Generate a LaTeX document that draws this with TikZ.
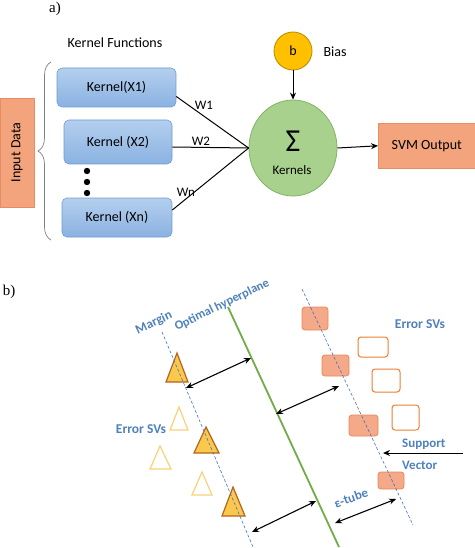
\documentclass[tikz,border=0pt]{standalone}
\usepackage{fontspec}
\setmainfont{Carlito}
\newfontfamily\serifx{Liberation Serif}
\usetikzlibrary{arrows.meta,shapes.geometric,decorations.pathreplacing,calc}
\definecolor{ktop}{RGB}{180,207,238}
\definecolor{kbot}{RGB}{138,178,225}
\definecolor{kborder}{RGB}{110,155,210}
\definecolor{ofill}{RGB}{244,164,124}
\definecolor{oborder}{RGB}{232,140,100}
\definecolor{bfill}{RGB}{255,192,0}
\definecolor{bborder}{RGB}{191,144,0}
\definecolor{gfill}{RGB}{169,209,142}
\definecolor{gborder}{RGB}{130,180,100}
\definecolor{gline}{RGB}{112,173,71}
\definecolor{dline}{RGB}{68,114,196}
\definecolor{sblue}{RGB}{79,129,189}
\definecolor{tfill}{RGB}{249,200,77}
\definecolor{tborder}{RGB}{181,101,29}
\definecolor{tlight}{RGB}{247,210,120}
\definecolor{sqfill}{RGB}{244,169,136}
\definecolor{sqborder}{RGB}{233,135,90}
\definecolor{sqline}{RGB}{237,125,49}
\begin{document}
\begin{tikzpicture}[x=1pt,y=-1pt,
  txt/.style={font=\fontsize{14}{16}\selectfont, inner sep=0pt},
  kbox/.style={draw=kborder, line width=0.6pt, rounded corners=5pt, top color=ktop, bottom color=kbot, font=\fontsize{14}{16}\selectfont, inner sep=0pt},
  obox/.style={draw=oborder, line width=0.6pt, fill=ofill, inner sep=0pt},
  wlab/.style={font=\fontsize{13}{15}\selectfont, inner sep=0pt},
  conn/.style={line width=1pt},
  arr/.style={line width=1pt, -{Stealth[length=7pt,width=6pt]}},
  blab/.style={text=sblue, font=\bfseries\fontsize{13}{15}\selectfont, inner sep=0pt},
  dbl/.style={line width=1.1pt, {Stealth[length=7pt,width=6pt]}-{Stealth[length=7pt,width=6pt]}},
  ftri/.style={draw=tborder, fill=tfill, line width=1.2pt, line join=miter},
  otri/.style={draw=tlight, fill=white, line width=1.2pt},
  fsq/.style={draw=sqborder, fill=sqfill, line width=0.8pt, rounded corners=3pt},
  osq/.style={draw=sqline, fill=white, line width=1pt, rounded corners=3pt},
  dashln/.style={draw=dline, dash pattern=on 3pt off 2pt, line width=0.6pt}
]
\useasboundingbox (0,0) rectangle (474,548);
% ---------- part a ----------
\node[font=\serifx\fontsize{15}{17}\selectfont, inner sep=0pt] (la) at (55,9) {a)};
\node[txt] (kf) at (115,43) {Kernel Functions};
\node[obox, minimum width=34pt, minimum height=109pt, anchor=north west] (inp) at (0,98) {};
\node[txt, rotate=90] (inpt) at (17,152.5) {Input Data};
\draw[gray, line width=0.7pt, decorate, decoration={brace, amplitude=13pt}] (51,240) -- (51,62);
\node[kbox, minimum width=119pt, minimum height=39pt] (k1) at (116.5,87.5) {Kernel(X1)};
\node[kbox, minimum width=108pt, minimum height=44pt] (k2) at (118,142) {Kernel (X2)};
\node[kbox, minimum width=110pt, minimum height=39pt] (kn) at (117,217.5) {Kernel (Xn)};
\fill (87,171) circle (3.2) (87,182) circle (3.2) (87,193) circle (3.2);
\node[ellipse, draw=gborder, fill=gfill, line width=0.8pt, minimum width=88pt, minimum height=96pt, inner sep=0pt] (sum) at (293,148) {};
\node[inner sep=0pt, font=\fontsize{32}{32}\selectfont] (sig) at (293,141) {Σ};
\node[font=\fontsize{13}{15}\selectfont, inner sep=0pt] (kern) at (292,170) {Kernels};
\node[circle, draw=bborder, fill=bfill, line width=0.9pt, minimum size=38pt, inner sep=0pt, font=\fontsize{14}{16}\selectfont] (b) at (293,51) {b};
\node[txt] (bias) at (335,52) {Bias};
\node[obox, minimum width=97pt, minimum height=45pt, anchor=north west, font=\fontsize{14}{16}\selectfont] (svm) at (378,123) {SVM Output};
\draw[conn] ([yshift=-9pt]k1.east) -- (sum.west);
\draw[conn] ([yshift=-5pt]k2.east) -- (sum.west);
\draw[conn] ([yshift=7.5pt]kn.east) -- (sum.west);
\node[wlab] (w1) at (204,105) {W1};
\node[wlab] (w2) at (201,141) {W2};
\node[wlab] (wn) at (186,192) {Wn};
\draw[arr] (b.south) -- (sum.north);
\draw[arr] (sum.east) -- (svm.west);
% ---------- part b ----------
\node[font=\serifx\fontsize{15}{17}\selectfont, inner sep=0pt] (lb) at (9,292) {b)};
\coordinate (gtop) at (228,307);
\coordinate (gbot) at (339,547);
\coordinate (ltop) at (162,332);
\coordinate (lbot) at (253,547);
\coordinate (rtop) at (302,289);
\coordinate (rbot) at (413,525);
\draw[gline, line width=1.8pt] (gtop) -- (gbot);
% outline triangles
\draw[otri] (179,407) -- (170,430) -- (188,430) -- cycle;
\draw[otri] (160,446) -- (150,469) -- (171,469) -- cycle;
\draw[otri] (202,472) -- (192,495) -- (212,495) -- cycle;
% outline squares
\draw[osq] (358,337) rectangle (388,357);
\draw[osq] (372,369) rectangle (400,392);
\draw[osq] (392,405) rectangle (419,430);
% filled triangles
\draw[ftri] (177,353) -- (166,382) -- (188,382) -- cycle;
\draw[ftri] (206,427) -- (194,453) -- (219,453) -- cycle;
\draw[ftri] (233,487) -- (222,516) -- (245,516) -- cycle;
% filled squares
\draw[fsq] (302,307) rectangle (328,330);
\draw[fsq] (322,355) rectangle (349,376);
\draw[fsq] (349,415) rectangle (378,436);
\draw[fsq] (378,472) rectangle (404,489);
% dashed margins on top
\draw[dashln] (ltop) -- (lbot);
\draw[dashln] (rtop) -- (rbot);
% double arrows
\coordinate (a1s) at (186,388); \coordinate (a1e) at (251,358);
\coordinate (a2s) at (276,414); \coordinate (a2e) at (339,386);
\coordinate (a3s) at (252,532); \coordinate (a3e) at (316,501);
\coordinate (a4s) at (335,523); \coordinate (a4e) at (396,499);
\draw[dbl] (a1s) -- (a1e);
\draw[dbl] (a2s) -- (a2e);
\draw[dbl] (a3s) -- (a3e);
\draw[dbl] (a4s) -- (a4e);
% support arrow
\coordinate (sva) at (463,453);
\coordinate (svb) at (383,453);
\draw[arr] (sva) -- (svb);
% labels
\node[blab, rotate=25] (mg) at (154,323) {Margin};
\node[blab, rotate=26, font=\bfseries\fontsize{12.5}{14}\selectfont] (oh) at (222,305) {Optimal hyperplane};
\node[blab, font=\bfseries\fontsize{13.5}{15}\selectfont] (e1) at (141,429) {Error SVs};
\node[blab, font=\bfseries\fontsize{13.5}{15}\selectfont] (e2) at (420,324) {Error SVs};
\node[blab, anchor=west] (sp) at (402,444) {Support};
\node[blab, anchor=west] (vc) at (402,465) {Vector};
\node[blab, rotate=20] (et) at (351,498) {ε-tube};
\end{tikzpicture}
\end{document}
